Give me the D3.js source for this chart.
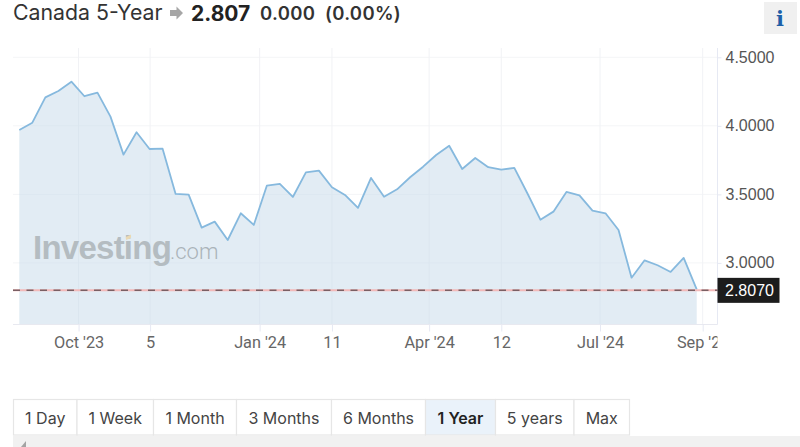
<!DOCTYPE html>
<html><head><meta charset="utf-8">
<script src="https://cdn.jsdelivr.net/npm/d3@7/dist/d3.min.js"></script>
<style>
html,body{margin:0;padding:0;background:#fff;overflow:hidden}
svg{display:block}
</style></head><body><svg id="c" width="800" height="447"></svg>
<script>
const values=[3.970,4.023,4.208,4.254,4.322,4.216,4.242,4.067,3.790,3.953,3.831,3.833,3.503,3.498,3.257,3.301,3.167,3.362,3.277,3.563,3.576,3.481,3.661,3.673,3.552,3.496,3.401,3.620,3.483,3.537,3.625,3.702,3.787,3.855,3.685,3.765,3.698,3.680,3.693,3.508,3.315,3.374,3.518,3.493,3.381,3.362,3.240,2.892,3.019,2.983,2.934,3.036,2.807];
const xTickPos=[4.55,10.04,18.45,24,31.46,37,44.58,52.46];
const xTickLabels=["Oct '23","5","Jan '24","11","Apr '24","12","Jul '24","Sep '24"];
const yTicks=[3,3.5,4,4.5];
const lastPrice=2.807;
const buttons=["1 Day","1 Week","1 Month","3 Months","6 Months","1 Year","5 years","Max"];
const buttonEdges=[13,76.5,153,236,331,425,495,573.5,629];
const activeButton="1 Year";

const svg=d3.select("#c");
const x=d3.scaleLinear().domain([0,values.length-1]).range([19.3,696.7]);
const y=d3.scaleLinear().domain([3,4.5]).range([262.9,57.3]);
const L=13,R=717.5,T=48,B=324.5;
const sans="Inter, sans-serif", ax="Liberation Sans, Arial, sans-serif", rb="Roboto, sans-serif";

// header
const h=svg.append("g");
h.append("text").attr("x",13).attr("y",20).attr("font-family",sans).attr("font-size",21.3).attr("fill","#333").text("Canada 5-Year");
h.append("path").attr("d","M170 10h6.5v-3.5l6.5 6.5l-6.5 6.5v-3.5h-6.5z").attr("fill","#a6a6a6");
h.append("text").attr("x",191).attr("y",21).attr("font-family",sans).attr("font-size",21).attr("font-weight",700).attr("fill","#222").text("2.807");
h.append("text").attr("x",260).attr("y",20).attr("font-family",sans).attr("font-size",18.5).attr("font-weight",600).attr("fill","#333").attr("letter-spacing",0.3).text("0.000");
h.append("text").attr("x",325).attr("y",20).attr("font-family",sans).attr("font-size",18.5).attr("font-weight",600).attr("fill","#333").attr("letter-spacing",0.3).text("(0.00%)");
h.append("rect").attr("x",764).attr("y",2).attr("width",33).attr("height",32).attr("fill","#f0f0f0");
h.append("text").attr("x",780).attr("y",26).attr("text-anchor","middle").attr("font-family","DejaVu Serif, serif").attr("font-weight",700).attr("font-size",21).attr("fill","#1d5fa8").text("i");

// grid
const g=svg.append("g");
g.selectAll(".hg").data(yTicks).join("line").attr("x1",L).attr("x2",R).attr("y1",d=>y(d)).attr("y2",d=>y(d)).attr("stroke","#f4f5f7");
g.selectAll(".vg").data(xTickPos).join("line").attr("x1",d=>x(d)).attr("x2",d=>x(d)).attr("y1",T).attr("y2",B).attr("stroke","#f1f2f5");

// area + line
g.append("path").datum(values).attr("fill","#c6d9e9").attr("fill-opacity",0.5)
 .attr("d",d3.area().x((d,i)=>x(i)).y0(B).y1(d=>y(d)));
g.append("line").attr("x1",L).attr("x2",R).attr("y1",B).attr("y2",B).attr("stroke","#e8e9f0");
g.append("line").attr("x1",R).attr("x2",R).attr("y1",T).attr("y2",B).attr("stroke","#e6e9f3");
g.append("path").datum(values).attr("fill","none").attr("stroke","#86b9de").attr("stroke-width",1.8).attr("stroke-linejoin","round")
 .attr("d",d3.line().x((d,i)=>x(i)).y(d=>y(d)));

// watermark
const w=g.append("g");
w.append("text").attr("x",33).attr("y",259).attr("font-family",ax).attr("font-weight",700).attr("font-size",33).attr("letter-spacing",-0.75).attr("fill","#b4bcc1").text("Investing");
w.append("text").attr("x",170).attr("y",259).attr("font-family",rb).attr("font-weight",300).attr("font-size",22).attr("fill","#aab3b9").text(".com");
w.append("path").attr("d","M126 237l5-2.5v3.5l-5 2z").attr("fill","#ead9b4");

// axes
const yAxis=d3.axisRight(y).tickValues(yTicks).tickFormat(d3.format(".4f")).tickSize(4).tickPadding(4);
const ya=svg.append("g").attr("transform",`translate(${R},0)`).call(yAxis);
ya.select(".domain").remove();
ya.selectAll("line").attr("stroke","#e6e9f3");
ya.selectAll("text").attr("font-family",ax).attr("font-size",16).attr("fill","#555").attr("dy","0.3em");

svg.append("defs").append("clipPath").attr("id","xc").append("rect").attr("x",0).attr("y",B).attr("width",R).attr("height",40);
const xAxis=d3.axisBottom(x).tickValues(xTickPos).tickFormat((d,i)=>xTickLabels[i]).tickSize(7).tickPadding(5);
const xa=svg.append("g").attr("clip-path","url(#xc)").append("g").attr("transform",`translate(0,${B})`).call(xAxis);
xa.select(".domain").remove();
xa.selectAll("line").attr("stroke","#e6e9f3");
xa.selectAll("text").attr("font-family",rb).attr("font-size",16.3).attr("fill","#666");

// price line + label
const py=y(lastPrice)+1;
svg.append("line").attr("x1",L).attr("x2",R).attr("y1",py).attr("y2",py).attr("stroke","#f2b9b9").attr("stroke-width",2);
svg.append("line").attr("x1",L).attr("x2",R).attr("y1",py).attr("y2",py).attr("stroke","#7a5f63").attr("stroke-width",1.5).attr("stroke-dasharray","7,6.5");
svg.append("rect").attr("x",R).attr("y",py-12.5).attr("width",62).attr("height",25).attr("fill","#1c1c1c");
svg.append("text").attr("x",725).attr("y",py+6).attr("font-family",ax).attr("font-size",16).attr("fill","#fff").text(d3.format(".4f")(lastPrice));

// range buttons
const bg=svg.append("g");
const bt=bg.selectAll("g").data(buttons).join("g");
bt.append("rect").attr("x",(d,i)=>buttonEdges[i]+.5).attr("y",399.5).attr("width",(d,i)=>buttonEdges[i+1]-buttonEdges[i]).attr("height",35.5)
 .attr("fill",d=>d===activeButton?"#eaf2fa":"#fff").attr("stroke","#e6e6e6").attr("stroke-width",1.2);
bt.append("text").attr("x",(d,i)=>(buttonEdges[i]+buttonEdges[i+1])/2+.5).attr("y",423.5).attr("text-anchor","middle")
 .attr("font-family",sans).attr("font-size",16).attr("font-weight",d=>d===activeButton?600:400).attr("fill",d=>d===activeButton?"#222":"#444").text(d=>d);

// scrollbar
svg.append("rect").attr("x",13).attr("y",436).attr("width",787).attr("height",11).attr("fill","#f1f1f1");
svg.append("path").attr("d","M26 441v6h-5z").attr("fill","#a3a3a3");
</script></body></html>
